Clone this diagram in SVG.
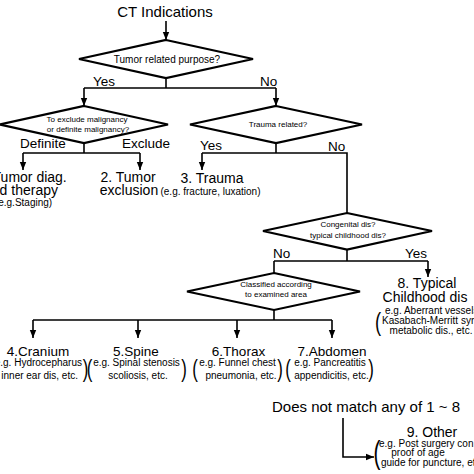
<svg xmlns="http://www.w3.org/2000/svg" width="474" height="474" viewBox="0 0 474 474">
<defs>
<marker id="arr" viewBox="0 0 10 10" refX="10" refY="5" markerWidth="8" markerHeight="8" markerUnits="userSpaceOnUse" orient="auto">
<path d="M0,1 L10,5 L0,9 z" fill="#000"/>
</marker>
<style>
text{font-family:"Liberation Sans",Arial,sans-serif;fill:#000}
.dia{fill:#fff;stroke:#000;stroke-width:2.2;stroke-linejoin:miter}
.con{fill:none;stroke:#000;stroke-width:1.6}
.arw{marker-end:url(#arr)}
.title{font-size:15px}
.q{font-size:8px;text-anchor:middle}
.q1{font-size:10px;text-anchor:middle}
.lbl{font-size:13.5px}
.big{font-size:14px;text-anchor:middle}
.sm{font-size:10px;text-anchor:middle}
.par{font-size:24px;text-anchor:middle}
</style>
</defs>
<rect width="474" height="474" fill="#fff"/>

<g id="connectors">
<path class="con arw" d="M166,21 V40"/>
<path class="con" d="M166,78 V88 M84,88 H276"/>
<path class="con arw" d="M84,88 V106"/>
<path class="con arw" d="M276,88 V106"/>
<path class="con" d="M84,143 V153 M23,153 H140"/>
<path class="con arw" d="M23,153 V170"/>
<path class="con arw" d="M140,153 V170"/>
<path class="con" d="M276,143 V153 M202,153 H347 V213"/>
<path class="con arw" d="M202,153 V170"/>
<path class="con" d="M347,249.5 V261 M274,261 H428 M274,261 V273"/>
<path class="con arw" d="M428,261 V277"/>
<path class="con" d="M274,310 V320 M33,320 H332"/>
<path class="con arw" d="M33,320 V338"/>
<path class="con arw" d="M138,320 V338"/>
<path class="con arw" d="M237,320 V338"/>
<path class="con arw" d="M332,320 V338"/>
<path class="con arw" d="M343,418 V457 H374"/>
<text class="lbl" x="93" y="86">Yes</text>
<text class="lbl" x="260" y="86">No</text>
<text class="lbl" x="20" y="148">Definite</text>
<text class="lbl" x="122" y="148">Exclude</text>
<text class="lbl" x="200" y="150">Yes</text>
<text class="lbl" x="328" y="151">No</text>
<text class="lbl" x="273" y="258">No</text>
<text class="lbl" x="405" y="258">Yes</text>
</g>

<g id="start">
<text class="title" x="165" y="17" text-anchor="middle">CT Indications</text>
</g>

<g id="q-tumor">
<polygon class="dia" points="166,40 253,59 166,78 79,59"/>
<text class="q1" x="167" y="63">Tumor related purpose?</text>
</g>

<g id="q-malignancy">
<polygon class="dia" points="84,106 168,124.5 84,143 0,124.5"/>
<text class="q" x="87" y="122">To exclude malignancy</text>
<text class="q" x="88" y="132">or definite malignancy?</text>
</g>

<g id="q-trauma">
<polygon class="dia" points="276,106 362,124.5 276,143 190,124.5"/>
<text class="q" x="278" y="127">Trauma related?</text>
</g>

<g id="q-congenital">
<polygon class="dia" points="347,213 432,231 347,249.5 263,231"/>
<text class="q" x="348" y="227">Congenital dis?</text>
<text class="q" x="348" y="238">typical childhood dis?</text>
</g>

<g id="q-area">
<polygon class="dia" points="274,273 360,291.5 274,310 187,291.5"/>
<text class="q" x="276" y="287">Classified according</text>
<text class="q" x="276" y="297">to examined area</text>
</g>

<g id="n1">
<text class="big" x="22" y="182">1. Tumor diag.</text>
<text class="big" x="21" y="195">and therapy</text>
<text class="sm" x="23.5" y="206">(e.g.Staging)</text>
</g>

<g id="n2">
<text class="big" x="128" y="182">2. Tumor</text>
<text class="big" x="129" y="195">exclusion</text>
</g>

<g id="n3">
<text class="big" x="212" y="183">3. Trauma</text>
<text class="sm" x="210.5" y="195">(e.g. fracture, luxation)</text>
</g>

<g id="n4">
<text class="big" x="38" y="356" style="font-size:13.5px">4.Cranium</text>
<text class="sm" x="82" y="366" style="text-anchor:end">e.g. Hydrocepharus</text>
<text class="sm" x="78" y="379" style="text-anchor:end">inner ear dis, etc.</text>
<text class="par" transform="translate(85.5,377) scale(0.7,1)">)</text>
</g>

<g id="n5">
<text class="big" x="136" y="356" style="font-size:13.5px">5.Spine</text>
<text class="par" transform="translate(89.5,377) scale(0.7,1)">(</text>
<text class="sm" x="136.5" y="366">e.g. Spinal stenosis</text>
<text class="sm" x="138" y="379">scoliosis, etc.</text>
<text class="par" transform="translate(184,377) scale(0.7,1)">)</text>
</g>

<g id="n6">
<text class="big" x="238.5" y="356" style="font-size:13.5px">6.Thorax</text>
<text class="par" transform="translate(195,377) scale(0.7,1)">(</text>
<text class="sm" x="237.5" y="366">e.g. Funnel chest</text>
<text class="sm" x="241" y="379">pneumonia, etc.</text>
<text class="par" transform="translate(280,377) scale(0.7,1)">)</text>
</g>

<g id="n7">
<text class="big" x="332" y="356" style="font-size:13.5px">7.Abdomen</text>
<text class="par" transform="translate(288,377) scale(0.7,1)">(</text>
<text class="sm" x="330" y="366">e.g. Pancreatitis</text>
<text class="sm" x="331.5" y="379">appendicitis, etc.</text>
<text class="par" transform="translate(371,377) scale(0.7,1)">)</text>
</g>

<g id="n8">
<text class="big" x="427" y="288">8. Typical</text>
<text class="big" x="425" y="302">Childhood dis</text>
<text class="par" transform="translate(378,331) scale(0.7,1)" style="font-size:26px">(</text>
<text class="sm" x="385" y="314" style="text-anchor:start">e.g. Aberrant vessels</text>
<text class="sm" x="382" y="324" style="text-anchor:start">Kasabach-Merritt syn</text>
<text class="sm" x="431" y="334">metabolic dis., etc.</text>
</g>

<g id="n9-cond">
<text class="title" x="272" y="412">Does not match any of 1 ~ 8</text>
</g>

<g id="n9">
<text class="big" x="432" y="437">9. Other</text>
<text class="par" transform="translate(377,463) scale(0.65,1)" style="font-size:32px">(</text>
<text class="sm" x="379" y="447" style="text-anchor:start">e.g. Post surgery con</text>
<text class="sm" x="418" y="456">proof of age</text>
<text class="sm" x="381" y="466" style="text-anchor:start">guide for puncture, etc.</text>
</g>
</svg>
